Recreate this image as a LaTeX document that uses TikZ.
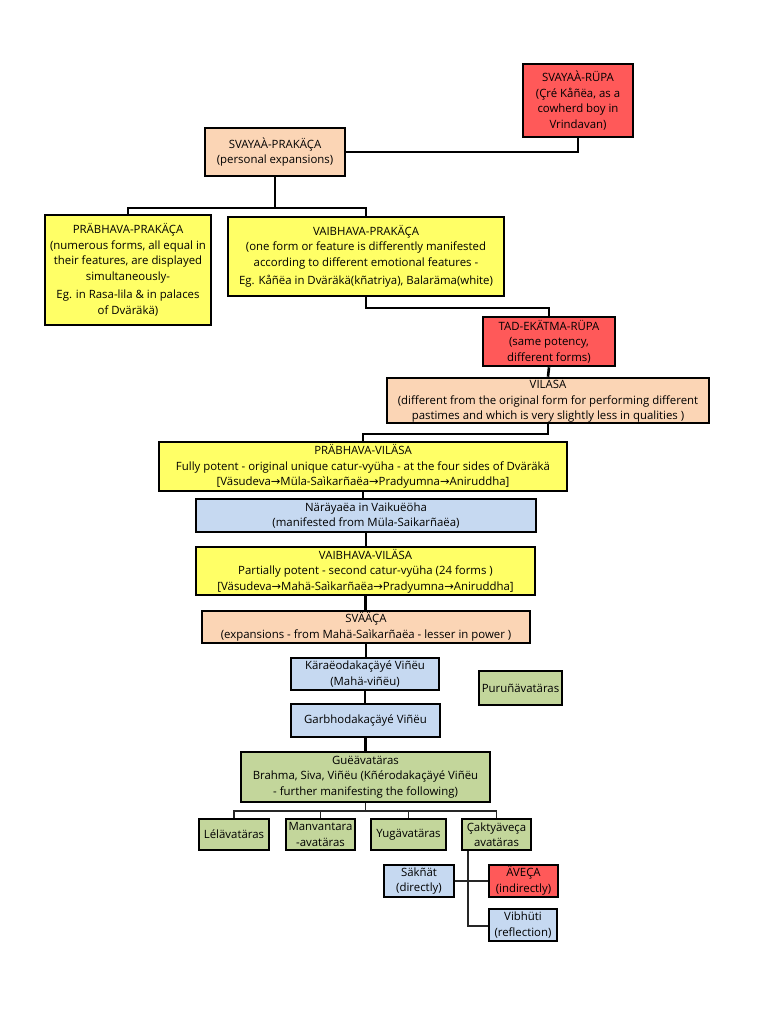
\documentclass[tikz,border=0pt]{standalone}
\usepackage{fontspec}
\setmainfont{Open Sans}
\newfontfamily\arrfont{DejaVu Sans}
\usetikzlibrary{calc}
\definecolor{cred}{RGB}{255,89,89}
\definecolor{cyel}{RGB}{255,255,102}
\definecolor{cpea}{RGB}{251,213,181}
\definecolor{cblu}{RGB}{198,217,241}
\definecolor{cgrn}{RGB}{195,214,155}
\newcommand\rarr{{\arrfont →}}
\newcommand\bx[7]{\node[box,fill=#2,minimum width={#5-#3-2},minimum height={#6-#4-2}] (#1) at ({(#3+#5)/2},{-(#4+#6)/2}) {#7};}
\tikzset{
  box/.style={draw=black,line width=2.6,inner sep=0pt,align=center,
    font=\fontsize{11.4}{15.5}\selectfont},
  conn/.style={draw=black,line width=2.6},
  thinconn/.style={draw=black!85,line width=1.6}
}
\begin{document}
\begin{tikzpicture}[x=1pt,y=1pt]
\fill[white] (0,0) rectangle (768,-1024);
\useasboundingbox (0,0) rectangle (768,-1024);
% nodes
\bx{rupa}{cred}{522}{63}{634}{138}{SVAYAÀ-RÜPA\\(Çré Kåñëa, as a\\cowherd boy in\\Vrindavan)}
\bx{sprak}{cpea}{204}{127}{346}{177}{SVAYAÀ-PRAKÄÇA\\(personal expansions)}
\bx{pprak}{cyel}{44}{214}{212}{326}{PRÄBHAVA-PRAKÄÇA\\(numerous forms, all equal in\\their features, are displayed\\simultaneously-\\[3pt]Eg. in Rasa-lila \& in palaces\\of Dväräkä)}
\bx{vprak}{cyel}{227}{216}{505}{297}{VAIBHAVA-PRAKÄÇA\\(one form or feature is differently manifested\\according to different emotional features -\\[3pt]Eg. Kåñëa in Dväräkä(kñatriya), Balaräma(white)}
\bx{tad}{cred}{482}{316}{616}{367}{TAD-EKÄTMA-RÜPA\\(same potency,\\different forms)}
\bx{vil}{cpea}{386}{377}{710}{424}{VILÄSA\\(different from the original form for performing different\\pastimes and which is very slightly less in qualities )}
\bx{pvil}{cyel}{158}{441}{568}{492}{PRÄBHAVA-VILÄSA\\Fully potent - original unique catur-vyüha - at the four sides of Dväräkä\\{}[Väsudeva\rarr Müla-Saìkarñaëa\rarr Pradyumna\rarr Aniruddha]}
\bx{nar}{cblu}{195}{498}{537}{533}{Näräyaëa in Vaikuëöha\\(manifested from Müla-Saikarñaëa)}
\bx{vvil}{cyel}{195}{546}{536}{596}{VAIBHAVA-VILÄSA\\Partially potent - second catur-vyüha (24 forms )\\{}[Väsudeva\rarr Mahä-Saìkarñaëa\rarr Pradyumna\rarr Aniruddha]}
\bx{svac}{cpea}{201}{610}{531}{644}{SVÄÄÇA\\(expansions - from Mahä-Saìkarñaëa - lesser in power )}
\bx{kar}{cblu}{290}{657}{440}{691}{Käraëodakaçäyé Viñëu\\(Mahä-viñëu)}
\bx{pur}{cgrn}{478}{670}{563}{706}{Puruñävatäras}
\bx{garb}{cblu}{290}{703}{441}{738}{Garbhodakaçäyé Viñëu}
\bx{guna}{cgrn}{240}{751}{491}{803}{Guëävatäras\\Brahma, Siva, Viñëu (Kñérodakaçäyé Viñëu\\- further manifesting the following)}
\bx{lila}{cgrn}{198}{818}{270}{851}{Léläva­täras}
\bx{manv}{cgrn}{285}{818}{356}{851}{Manvantara\\-avatäras}
\bx{yuga}{cgrn}{370}{818}{447}{851}{Yugävatäras}
\bx{cak}{cgrn}{461}{818}{532}{851}{Çaktyäveça\\avatäras}
\bx{sak}{cblu}{383}{864}{455}{898}{Säkñät\\(directly)}
\bx{ave}{cred}{488}{864}{559}{898}{ÄVEÇA\\(indirectly)}
\bx{vib}{cblu}{488}{908}{558}{942}{Vibhüti\\(reflection)}
% connectors
\draw[conn] (sprak.east) -- (sprak.east -| rupa.south) -- (rupa.south);
\coordinate (b1) at (275,-208);
\draw[conn] (sprak.south) -- (b1);
\draw[conn] (pprak.north) |- (b1) -| (vprak.north);
\coordinate (b2) at (366,-308);
\draw[conn] (vprak.south) -- (b2) -| (tad.north);
\draw[conn] (tad.south) -- (vil.north);
\coordinate (b3) at (548,-434);
\draw[conn] (vil.south) -- (b3) -| (pvil.north);
\draw[conn] (pvil.south) -- (pvil.south |- nar.north);
\draw[conn] (nar.south) -- (nar.south |- vvil.north);
\draw[conn] (vvil.south) -- (vvil.south |- svac.north);
\draw[conn] (svac.south) -- (svac.south |- kar.north);
\draw[conn] (kar.south) -- (kar.south |- garb.north);
\draw[conn] (garb.south) -- (garb.south |- guna.north);
\coordinate (b4) at (365.5,-811);
\draw[thinconn] (guna.south) -- (b4);
\draw[thinconn] (lila.north) |- (b4) -| (cak.north);
\draw[thinconn] (manv.north) -- (manv.north |- b4);
\draw[thinconn] (yuga.north) -- (yuga.north |- b4);
\coordinate (c1) at (468,-851);
\coordinate (c2) at (468,-926);
\draw[thinconn] (c1) -- (c2) -- (c2 -| vib.west);
\draw[thinconn] (sak.east) -- (ave.west);
\end{tikzpicture}
\end{document}
